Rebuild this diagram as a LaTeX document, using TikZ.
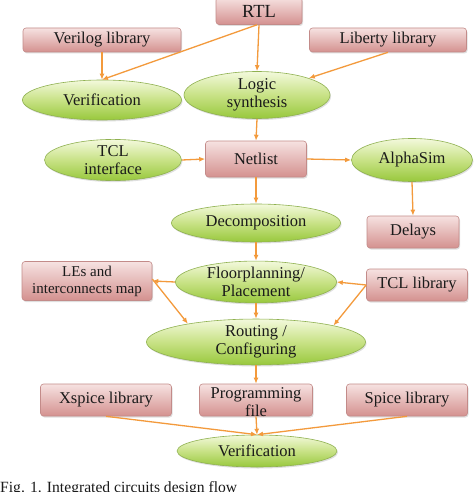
\documentclass[tikz,border=0pt]{standalone}
\usepackage{fontspec}
\setmainfont{Liberation Serif}
\usetikzlibrary{shapes.geometric,arrows.meta,shadows}
\definecolor{boxtop}{HTML}{F6E2E1}
\definecolor{boxbot}{HTML}{D4918F}
\definecolor{boxdraw}{HTML}{C38B89}
\definecolor{elltop}{HTML}{F3F9DC}
\definecolor{ellmid}{HTML}{C8E286}
\definecolor{ellbot}{HTML}{98C83C}
\definecolor{elldraw}{HTML}{8FB150}
\definecolor{arr}{HTML}{F39A3C}
\definecolor{txt}{HTML}{1A1A1A}
\tikzset{
  pbox/.style={draw=boxdraw, line width=0.6pt, rounded corners=3pt, top color=boxtop, bottom color=boxbot,
    inner sep=0pt, align=center, text=txt, font=\fontsize{16.5}{18}\selectfont,
    drop shadow={shadow xshift=1pt, shadow yshift=-1.5pt, opacity=0.25}},
  gell/.style={ellipse, draw=elldraw, line width=0.6pt, top color=elltop, bottom color=ellbot, middle color=ellmid,
    inner sep=0pt, align=center, text=txt, font=\fontsize{16.5}{18}\selectfont,
    drop shadow={shadow xshift=1pt, shadow yshift=-1.5pt, opacity=0.25}},
  flow/.style={draw=arr, line width=1.3pt, -{Latex[length=6pt,width=5pt]}}
}
\begin{document}
\begin{tikzpicture}[x=1pt,y=-1pt]
\useasboundingbox (0,0) rectangle (474,492);
\clip (0,0) rectangle (474,492);
\fill[white] (0,0) rectangle (474,492);
% nodes
\node[pbox, minimum width=86pt, minimum height=27pt, font=\fontsize{18.5}{20}\selectfont] (rtl) at (259,11) {RTL};
\node[pbox, minimum width=158pt, minimum height=24pt] (verlib) at (102,40) {Verilog library};
\node[pbox, minimum width=157pt, minimum height=24pt] (liblib) at (388,40) {Liberty library};
\node[gell, minimum width=159pt, minimum height=40pt] (ver1) at (102,100) {Verification};
\node[gell, minimum width=146pt, minimum height=47pt] (logic) at (257,95) {Logic\\synthesis};
\node[gell, minimum width=137pt, minimum height=41pt] (tcli) at (113,160) {TCL\\interface};
\node[pbox, minimum width=101pt, minimum height=36pt] (net) at (256,159) {Netlist};
\node[gell, minimum width=121pt, minimum height=43pt] (alpha) at (412,160) {AlphaSim};
\node[gell, minimum width=169pt, minimum height=38pt] (decomp) at (256,223) {Decomposition};
\node[pbox, minimum width=92pt, minimum height=32pt] (delays) at (413,232) {Delays};
\node[pbox, minimum width=130pt, minimum height=39pt, font=\fontsize{15}{17}\selectfont] (les) at (87,281) {LEs and\\interconnects map};
\node[gell, minimum width=161pt, minimum height=41pt] (floor) at (256,282) {Floorplanning/\\Placement};
\node[pbox, minimum width=101pt, minimum height=32pt] (tcllib) at (417,285) {TCL library};
\node[gell, minimum width=219pt, minimum height=45pt] (route) at (256,342) {Routing /\\Configuring};
\node[pbox, minimum width=131pt, minimum height=32pt] (xsp) at (106,400) {Xspice library};
\node[pbox, minimum width=113pt, minimum height=32pt] (prog) at (256,400) {};
\node[font=\fontsize{16.5}{18}\selectfont, text=txt, align=center, inner sep=0pt] (progt) at (256,402) {Programming\\file};
\node[pbox, minimum width=121pt, minimum height=32pt] (spl) at (407,400) {Spice library};
\node[gell, minimum width=160pt, minimum height=32pt] (ver2) at (257,451) {Verification};
% connectors
\draw[flow] (rtl.south) -- (logic.north);
\draw[flow] ([xshift=-2pt]rtl.south) -- (ver1.north);
\draw[flow] (verlib.south) -- (ver1.north);
\draw[flow] (liblib.south) -- (logic.18);
\draw[flow] (logic.south) -- (net.north);
\draw[flow] (tcli.east) -- (net.west);
\draw[flow] (net.east) -- (alpha.west);
\draw[flow] (alpha.south) -- (delays.north);
\draw[flow] (net.south) -- (decomp.north);
\draw[flow] (decomp.south) -- (floor.north);
\draw[flow] (floor.west) -- (les.east);
\draw[flow] (tcllib.west) -- (floor.east);
\draw[flow] ([yshift=2pt]les.east) -- (route.165);
\draw[flow] (tcllib.west) -- (route.12);
\draw[flow] (floor.south) -- (route.north);
\draw[flow] (route.south) -- (prog.north);
\draw[flow] (prog.south) -- (ver2.north);
\draw[flow] (xsp.south) -- (ver2.north);
\draw[flow] (spl.south) -- (ver2.north);
% caption
\node[anchor=base west, inner sep=0pt, text=txt, font=\fontsize{15.6}{18}\selectfont] (cap) at (0,492) {Fig. 1. Integrated circuits design flow};
\end{tikzpicture}
\end{document}
